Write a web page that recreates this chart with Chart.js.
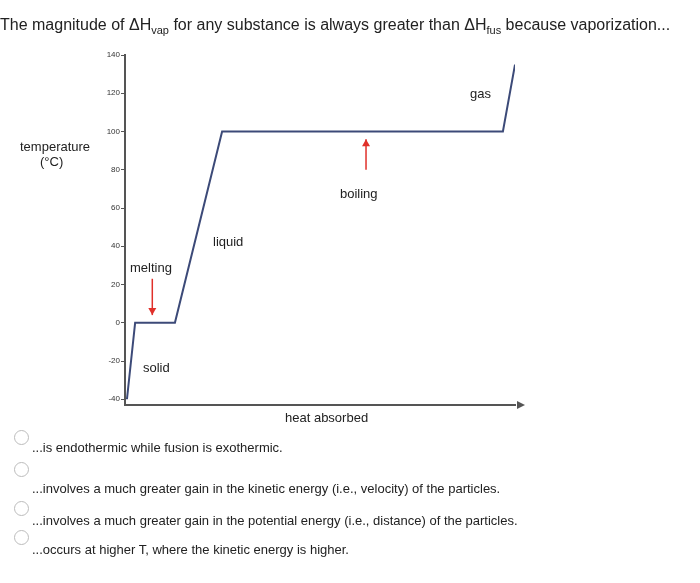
<!DOCTYPE html>
<html>
<head>
<meta charset="utf-8">
<script src="https://cdn.jsdelivr.net/npm/chart.js@4"></script>
<style>
  body { margin:0; background:#fff; font-family:"Liberation Sans", Arial, sans-serif; color:#222; }
  #wrap { position:relative; width:700px; height:583px; overflow:hidden; }
  canvas { position:absolute; left:0; top:0; }
  .t { position:absolute; white-space:nowrap; font-size:13px; }
  .q { position:absolute; font-size:13px; }
  .c { position:absolute; width:13px; height:13px; border:1px solid #bbb; border-radius:50%; }
</style>
</head>
<body>
<div id="wrap">
  <canvas id="chart" width="700" height="583"></canvas>
  <div class="t" style="left:0;top:16px;font-size:16px">The magnitude of ΔH<sub style="font-size:11px">vap</sub> for any substance is always greater than ΔH<sub style="font-size:11px">fus</sub> because vaporization...</div>
  <div class="t" style="left:20px;top:139px">temperature</div>
  <div class="t" style="left:40px;top:154px">(°C)</div>
  <div class="t" style="left:470px;top:86px">gas</div>
  <div class="t" style="left:340px;top:186px">boiling</div>
  <div class="t" style="left:213px;top:234px">liquid</div>
  <div class="t" style="left:130px;top:260px">melting</div>
  <div class="t" style="left:143px;top:360px">solid</div>
  <div class="t" style="left:285px;top:410px">heat absorbed</div>
  <div class="c" style="left:14px;top:430px"></div>
  <div class="q" style="left:32px;top:440px">...is endothermic while fusion is exothermic.</div>
  <div class="c" style="left:14px;top:462px"></div>
  <div class="q" style="left:32px;top:481px">...involves a much greater gain in the kinetic energy (i.e., velocity) of the particles.</div>
  <div class="c" style="left:14px;top:501px"></div>
  <div class="q" style="left:32px;top:513px">...involves a much greater gain in the potential energy (i.e., distance) of the particles.</div>
  <div class="c" style="left:14px;top:530px"></div>
  <div class="q" style="left:32px;top:542px">...occurs at higher T, where the kinetic energy is higher.</div>
</div>
<script>
// heating curve, heat in arbitrary units
const heat = [0.5, 2.6, 12.8, 24.9, 96.9, 100];
const temperature = [-40, 0, 0, 100, 100, 135];
const yTicks = [-40, -20, 0, 20, 40, 60, 80, 100, 120, 140];

const extras = {
  id: 'extras',
  afterDraw(chart) {
    const ctx = chart.ctx, x = chart.scales.x, y = chart.scales.y;
    ctx.save();
    ctx.strokeStyle = '#555'; ctx.fillStyle = '#555'; ctx.lineWidth = 2;
    // x axis arrow
    const ay = y.getPixelForValue(-43);
    ctx.beginPath(); ctx.moveTo(x.right + 2, ay - 4); ctx.lineTo(x.right + 10, ay); ctx.lineTo(x.right + 2, ay + 4); ctx.fill();
    // red arrows
    ctx.strokeStyle = '#e0302a'; ctx.fillStyle = '#e0302a'; ctx.lineWidth = 1.5;
    function arrow(x0, y0, y1) {
      ctx.beginPath(); ctx.moveTo(x0, y0); ctx.lineTo(x0, y1); ctx.stroke();
      const d = y1 < y0 ? 1 : -1;
      ctx.beginPath(); ctx.moveTo(x0, y1); ctx.lineTo(x0 - 4, y1 + 7 * d); ctx.lineTo(x0 + 4, y1 + 7 * d); ctx.fill();
    }
    arrow(x.getPixelForValue(61.8), y.getPixelForValue(80), y.getPixelForValue(96));
    arrow(x.getPixelForValue(7), y.getPixelForValue(23), y.getPixelForValue(4));
    ctx.restore();
  }
};

new Chart('chart', {
  type: 'line',
  data: {
    datasets: [{
      data: heat.map((h, i) => ({ x: h, y: temperature[i] })),
      borderColor: '#3c4a78', borderWidth: 2, pointRadius: 0, tension: 0
    }]
  },
  options: {
    responsive: false, animation: false,
    layout: { padding: { left: 0, top: 55, right: 185, bottom: 178 } },
    plugins: { legend: { display: false }, tooltip: { enabled: false } },
    scales: {
      x: {
        type: 'linear', min: 0, max: 100,
        grid: { display: false }, ticks: { display: false },
        border: { color: '#555', width: 2 },
        afterFit(s) { s.height = 0; }
      },
      y: {
        min: -43, max: 140,
        afterBuildTicks(s) { s.ticks = yTicks.map(v => ({ value: v })); },
        grid: { display: true, drawOnChartArea: false, drawTicks: true, tickLength: 4, color: '#555' },
        ticks: { font: { size: 8 }, color: '#333', padding: 1 },
        border: { color: '#555', width: 2 },
        afterFit(s) { s.width = 125; }
      }
    }
  },
  plugins: [extras]
});
</script>
</body>
</html>
